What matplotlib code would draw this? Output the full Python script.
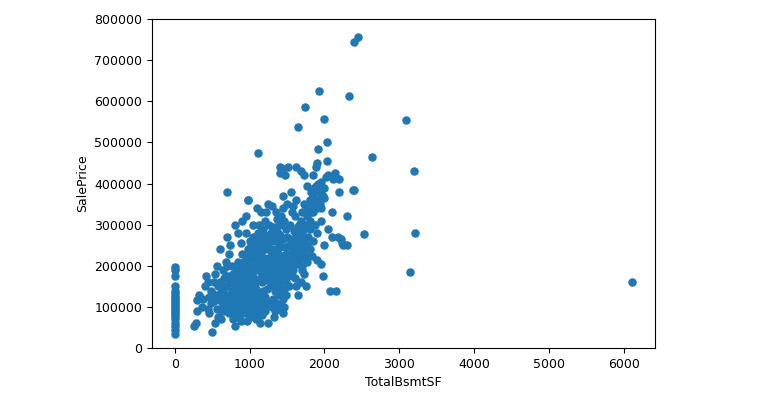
import matplotlib
matplotlib.use("Agg")
import matplotlib.pyplot as plt

zero_x = [0]*22
zero_y = [35000, 45000, 55000, 62000, 70000, 78000, 82000, 88000, 92000, 98000, 103000, 108000,
          112000, 118000, 122000, 128000, 135000, 140000, 150000, 175000, 190000, 198000]

cluster = [
 (260,55000),(280,62000),(300,90000),(290,118000),(320,130000),(360,100000),(380,120000),(400,150000),
 (420,175000),(440,160000),(460,85000),(480,110000),(500,135000),(520,160000),(540,180000),(560,200000),
 (500,40000),(540,60000),(580,75000),(600,95000),(620,115000),(640,140000),(660,170000),(680,210000),
 (600,240000),(640,190000),(700,380000),(700,270000),(720,230000),(740,250000),(760,200000),(780,180000),
 (700,150000),(720,125000),(740,105000),(760,90000),(780,70000),(800,55000),(820,80000),(840,100000),
 (860,120000),(880,140000),(900,160000),(920,180000),(940,200000),(960,220000),(980,240000),(1000,260000),
 (800,300000),(850,280000),(880,255000),(900,310000),(950,320000),(980,360000),(1000,200000),(1020,180000),
 (1040,160000),(1060,140000),(1080,120000),(1100,100000),(1120,80000),(1140,60000),(1000,110000),(1020,130000),
 (1040,150000),(1060,170000),(1080,190000),(1100,210000),(1120,230000),(1140,250000),(1160,270000),(1180,290000),
 (1200,310000),(1220,330000),(1240,350000),(1260,300000),(1280,280000),(1300,260000),(1320,240000),(1340,220000),
 (1360,200000),(1380,180000),(1400,160000),(1420,140000),(1440,120000),(1460,100000),(1250,62000),(1200,90000),
 (1180,140000),(1160,160000),(1200,180000),(1220,200000),(1240,220000),(1260,240000),(1280,200000),(1300,180000),
 (1320,160000),(1340,140000),(1360,260000),(1380,280000),(1400,300000),(1420,320000),(1440,340000),(1460,310000),
 (1480,290000),(1500,270000),(1520,250000),(1540,230000),(1560,210000),(1580,190000),(1600,170000),(1620,150000),
 (1500,200000),(1520,180000),(1540,300000),(1560,330000),(1580,345000),(1600,320000),(1620,280000),(1640,260000),
 (1660,240000),(1680,220000),(1700,200000),(1720,180000),(1740,300000),(1760,320000),(1780,340000),(1800,360000),
 (1820,380000),(1840,370000),(1860,390000),(1880,395000),(1900,385000),(1920,400000),(1940,380000),(1960,405000),
 (1980,370000),(2000,390000),(2020,415000),(2050,420000),(1950,310000),(1900,280000),(1850,260000),(1800,240000),
 (1750,225000),(1700,190000),(1680,160000),(1650,130000),(1900,215000),(1950,205000),(2000,250000),(2050,290000),
 (2100,330000),(2080,140000),(1980,175000),(1850,330000),(1780,270000),(1720,350000),(1660,300000),(1620,360000),
 (1550,380000),(1500,350000),(1450,370000),(1350,330000),(1300,345000),(1150,330000),(1100,340000),(1050,300000),
 (950,280000),(900,230000),(850,210000),(830,190000),(870,170000),(910,150000),(930,130000),(960,110000),
 (990,90000),(1010,75000),(1130,95000),(1170,115000),(1210,125000),(1230,145000),(1270,160000),(1310,120000),
 (1350,110000),(1390,130000),(1430,190000),(1470,210000),(1490,230000),(1530,150000),(1570,260000),(1610,240000),
 (1640,205000),(1690,275000),(1730,255000),(1770,210000),(1810,290000),(1830,225000),(1870,300000),(2250,250000),
 (2220,265000),(2300,320000),(1720,420000),(1850,420000),(1760,395000),(1690,430000),(1620,440000),(1510,440000),
 (1470,420000),(1400,425000),(2200,380000),(2380,385000),(2300,250000),(2000,365000),(1950,340000),(2100,270000),
 (760,140000),(790,160000),(810,130000),(830,150000),(850,145000),(870,110000),(890,125000),(910,175000),
 (930,195000),(950,165000),(970,145000),(990,135000),(1010,155000),(1030,145000),(1050,125000),(1070,155000),
 (1090,145000),(1110,165000),(1130,135000),(1150,185000),(1170,175000),(1190,205000),(1210,165000),(1230,185000),
 (1250,175000),(1270,215000),(1290,195000),(1310,225000),(1330,205000),(1350,185000),(1370,235000),(1390,215000),
 (1410,245000),(1430,225000),(1450,265000),(1470,245000),(1490,185000),(1510,225000),(1530,205000),(1550,265000),
 (1570,235000),(1590,285000),(1610,205000),(1630,225000),(1650,295000),(1670,255000),(1690,245000),(1710,235000),
 (790,120000),(810,105000),(830,118000),(850,92000),(870,135000),(890,105000),(910,112000),(930,98000),
 (950,128000),(970,175000),(990,188000),(1010,215000),(1030,235000),(1050,195000),(1070,225000),(1090,260000),
 (1110,280000),(1130,300000),(1150,230000),(1170,245000),(1190,255000),(1210,275000),(1230,265000),(1250,255000),
 (1270,275000),(1290,235000),(1310,295000),(1330,275000),(1350,295000),(1370,315000),(1390,255000),(1410,275000),
 (700,200000),(720,175000),(740,160000),(680,130000),(660,110000),(640,90000),(620,70000),(700,100000),
 (720,85000),(760,115000),(780,135000),(800,150000),(820,170000),(840,165000),(860,185000),(880,200000),
 (900,190000),(920,210000),(940,170000),(960,190000),(980,205000),(1000,230000),(1020,250000),(1040,270000),
 (1060,250000),(1080,240000),(1100,230000),(1120,200000),(1140,215000),(1160,205000),(1180,220000),(1200,240000),
 (1220,250000),(1240,195000),(1260,185000),(1280,170000),(1300,150000),(1320,190000),(1340,175000),(1360,165000),
 (1380,150000),(1400,200000),(1420,210000),(1440,180000),(1460,170000),(1480,160000),(1500,175000),(1520,195000),
 (1540,185000),(1560,175000),(1580,215000),(1600,255000),(1620,265000),(1640,285000),(1660,270000),(1680,310000),
 (1700,330000),(1720,290000),(1740,270000),(1760,250000),(1780,300000),(1800,310000),(1820,330000),(1840,350000),
 (1860,355000),(1880,345000),(1900,340000),(1920,360000),(1940,350000),(1960,375000),(1980,390000),(1750,150000),
 (1480,130000),(1460,145000),(1420,105000),(1380,95000),(1340,90000),(1300,100000),(1260,110000),(1220,105000),
 (1180,95000),(1140,110000),(1100,120000),(1060,110000),(1020,95000),(980,100000),(940,85000),(900,95000),
 (860,75000),(880,65000),(960,65000),(1040,85000),(1080,70000),(1160,80000),(1320,75000),(1440,85000),
 (440,95000),(460,125000),(480,140000),(520,115000),(560,130000),(580,150000),(600,160000),(620,135000),
 (660,150000),(680,175000),(700,125000),(560,95000),(600,120000),(640,120000),(680,90000),(740,130000),
]
out_pts = [(6110,160000),(3200,430000),(3094,555000),(3138,184750),(3206,280000),(2444,755000),
 (2396,745000),(2633,465000),(2524,278000),(2392,385000),(1930,625000),(1734,585000),(2330,611657),
 (1992,556581),(1650,538000),(1107,475000),(2035,500000),(1920,485000),(2136,426000),(2120,410000),
 (2200,410000),(2040,455000),(2180,270000),(2150,140000),(2230,255000),(1900,450000),(1880,440000),
 (1400,440000),(1450,435000),(980,360000)]

x = zero_x + [p[0] for p in cluster] + [p[0] for p in out_pts]
y = zero_y + [p[1] for p in cluster] + [p[1] for p in out_pts]

plt.rcParams['font.size'] = 9
fig = plt.figure(figsize=(7.72, 4.03), dpi=100)
ax = fig.add_axes([0.197, 0.136, 0.651, 0.817])
ax.scatter(x, y, s=26, color='#1f77b4')
ax.set_xlim(-305.5, 6415.5)
ax.set_ylim(0, 800000)
ax.set_xlabel('TotalBsmtSF')
ax.set_ylabel('SalePrice')
fig.savefig('out.png', dpi=100)
